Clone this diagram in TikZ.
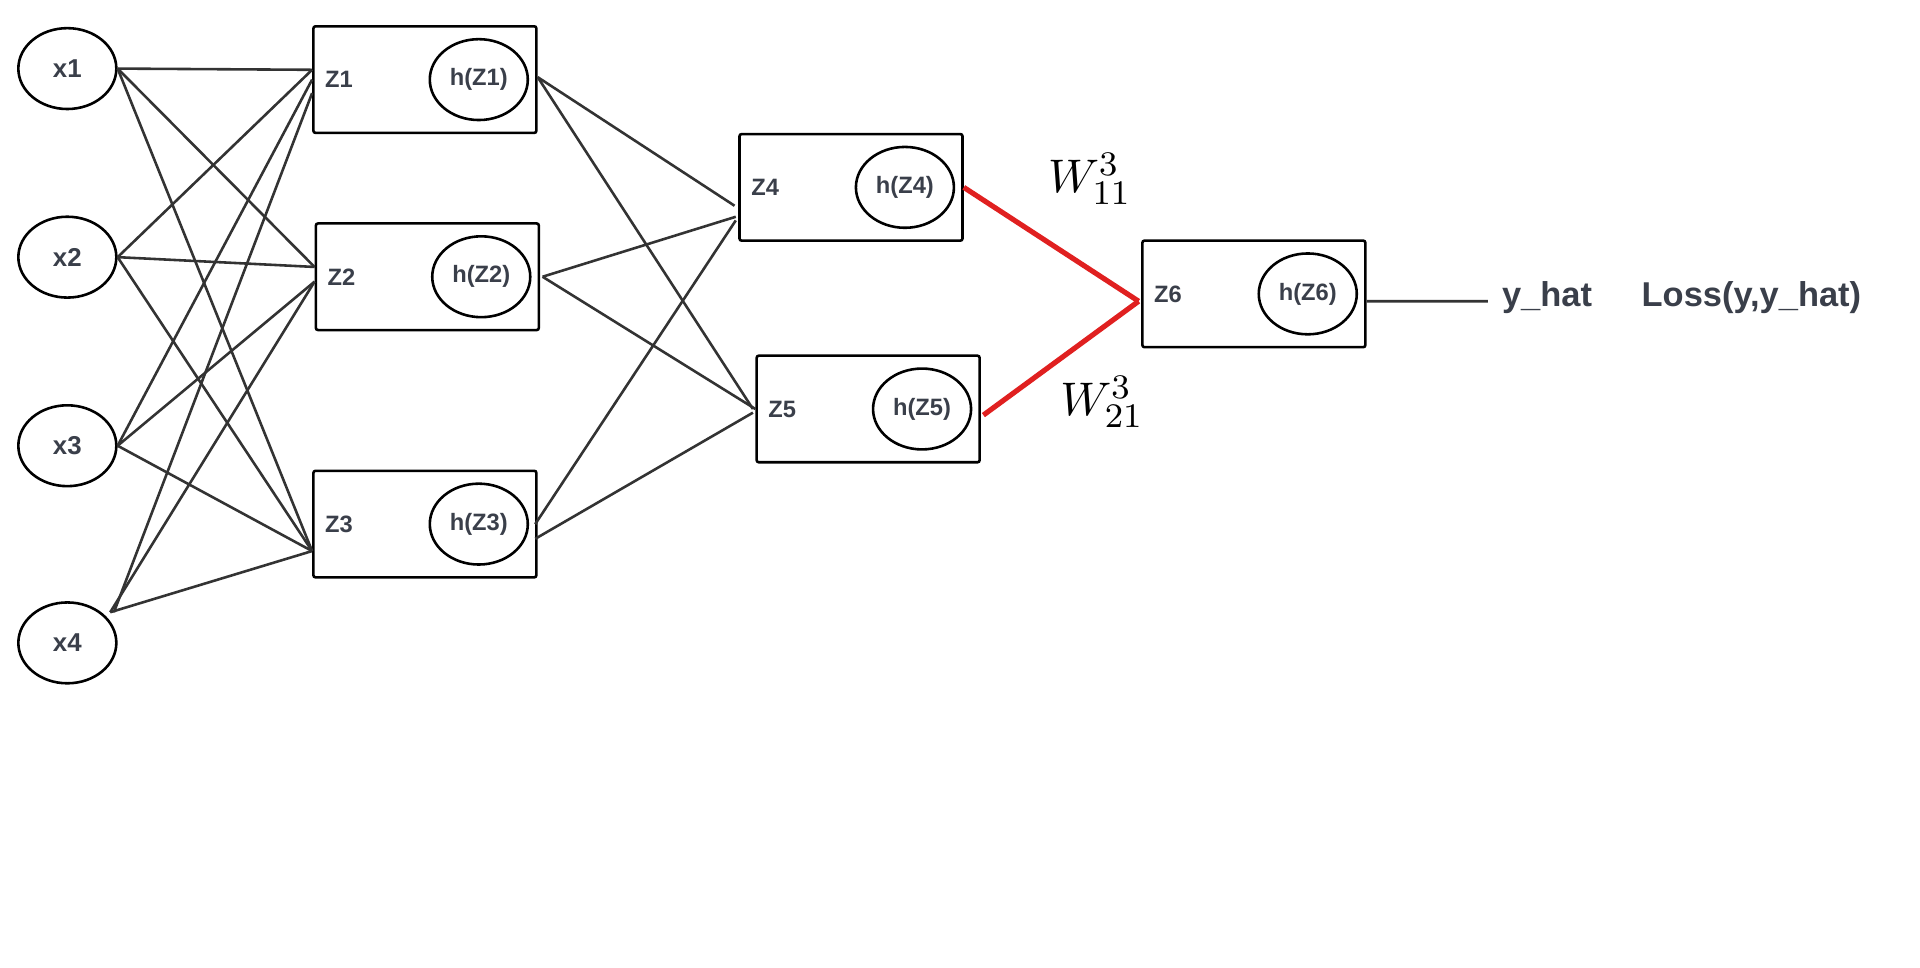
\documentclass[tikz,border=0pt]{standalone}
\usepackage{fontspec}
\setmainfont{Liberation Sans}
\usetikzlibrary{shapes.geometric, positioning}
\definecolor{txtgray}{HTML}{3A3F4A}
\definecolor{wred}{HTML}{E02020}
\tikzset{
    inp/.style={draw, semithick, ellipse, minimum width=0.8cm, minimum height=0.66cm, inner sep=0pt, text=txtgray, font=\fontsize{6}{7}\selectfont\bfseries},
    unit/.style={draw, semithick, rounded corners=0.5pt, minimum width=1.82cm, minimum height=0.87cm, inner sep=0pt},
    act/.style={draw, semithick, ellipse, minimum width=0.8cm, minimum height=0.66cm, inner sep=0pt, text=txtgray, font=\fontsize{5.5}{6}\selectfont\bfseries},
    zlab/.style={text=txtgray, font=\fontsize{5.5}{6}\selectfont\bfseries, inner sep=0pt},
    wire/.style={draw=black!80, semithick},
    redwire/.style={draw=wred, very thick},
    bigtxt/.style={text=txtgray, font=\fontsize{8}{10}\selectfont\bfseries, anchor=west, inner sep=0pt}
}
\begin{document}
\begin{tikzpicture}[x=0.01cm, y=-0.01cm]
    \useasboundingbox (0,0) rectangle (1568,790);

    % Inputs
    \node[inp] (x1) at (55,56) {x1};
    \node[inp] (x2) at (55,210) {x2};
    \node[inp] (x3) at (55,364) {x3};
    \node[inp] (x4) at (55,525) {x4};

    % Units: box, label, activation
    \foreach \n/\x/\y in {1/347/65, 2/349/226, 3/347/428, 4/695/153, 5/709/334, 6/1024/240} {
        \node[unit] (Z\n) at (\x,\y) {};
        \node[zlab, right=0.1cm of Z\n.west] (lab\n) {Z\n};
        \node[act, left=0.07cm of Z\n.east] (h\n) {h(Z\n)};
    }

    % Input layer to first hidden layer
    \draw[wire] (x1.east) -- ([yshift=0.08cm]Z1.west);
    \draw[wire] (x1.east) -- ([yshift=0.08cm]Z2.west);
    \draw[wire] (x1.east) -- ([yshift=-0.22cm]Z3.west);
    \draw[wire] (x2.east) -- ([yshift=0.08cm]Z1.west);
    \draw[wire] (x2.east) -- ([yshift=0.08cm]Z2.west);
    \draw[wire] (x2.east) -- ([yshift=-0.22cm]Z3.west);
    \draw[wire] (x3.east) -- (Z1.west);
    \draw[wire] (x3.east) -- ([yshift=-0.04cm]Z2.west);
    \draw[wire] (x3.east) -- ([yshift=-0.22cm]Z3.west);
    \draw[wire] ([shift={(0.38cm,0.25cm)}]x4.center) -- ([yshift=-0.11cm]Z1.west);
    \draw[wire] ([shift={(0.35cm,0.25cm)}]x4.center) -- ([yshift=-0.04cm]Z2.west);
    \draw[wire] ([shift={(0.35cm,0.25cm)}]x4.center) -- ([yshift=-0.22cm]Z3.west);

    % First hidden layer to second hidden layer
    \draw[wire] ([yshift=0.02cm]Z1.east) -- ([xshift=-0.03cm, yshift=-0.15cm]Z4.west);
    \draw[wire] ([yshift=0.02cm]Z1.east) -- ([xshift=-0.02cm]Z5.west);
    \draw[wire] ([xshift=0.02cm]Z2.east) -- ([xshift=-0.02cm, yshift=-0.24cm]Z4.west);
    \draw[wire] ([xshift=0.02cm]Z2.east) -- (Z5.west);
    \draw[wire] ([xshift=-0.02cm]Z3.east) -- ([xshift=-0.02cm, yshift=-0.27cm]Z4.west);
    \draw[wire] ([xshift=-0.02cm, yshift=-0.12cm]Z3.east) -- ([xshift=-0.02cm, yshift=-0.03cm]Z5.west);

    % Output layer
    \draw[redwire] (Z4.east) -- ([xshift=-0.02cm, yshift=-0.06cm]Z6.west);
    \draw[redwire] ([xshift=0.02cm, yshift=-0.05cm]Z5.east) -- ([xshift=-0.02cm, yshift=-0.06cm]Z6.west);
    \node[font=\fontsize{11}{12}\selectfont, inner sep=0pt] (w11) at (890,146) {$W^3_{11}$};
    \node[font=\fontsize{11}{12}\selectfont, inner sep=0pt] (w21) at (900,328) {$W^3_{21}$};

    \coordinate (yend) at (1215,246);
    \draw[wire] ([yshift=-0.06cm]Z6.east) -- (yend);
    \node[bigtxt] (yhat) at (1226,243) {y\_hat};
    \node[bigtxt] (loss) at (1340,243) {Loss(y,y\_hat)};
\end{tikzpicture}
\end{document}
